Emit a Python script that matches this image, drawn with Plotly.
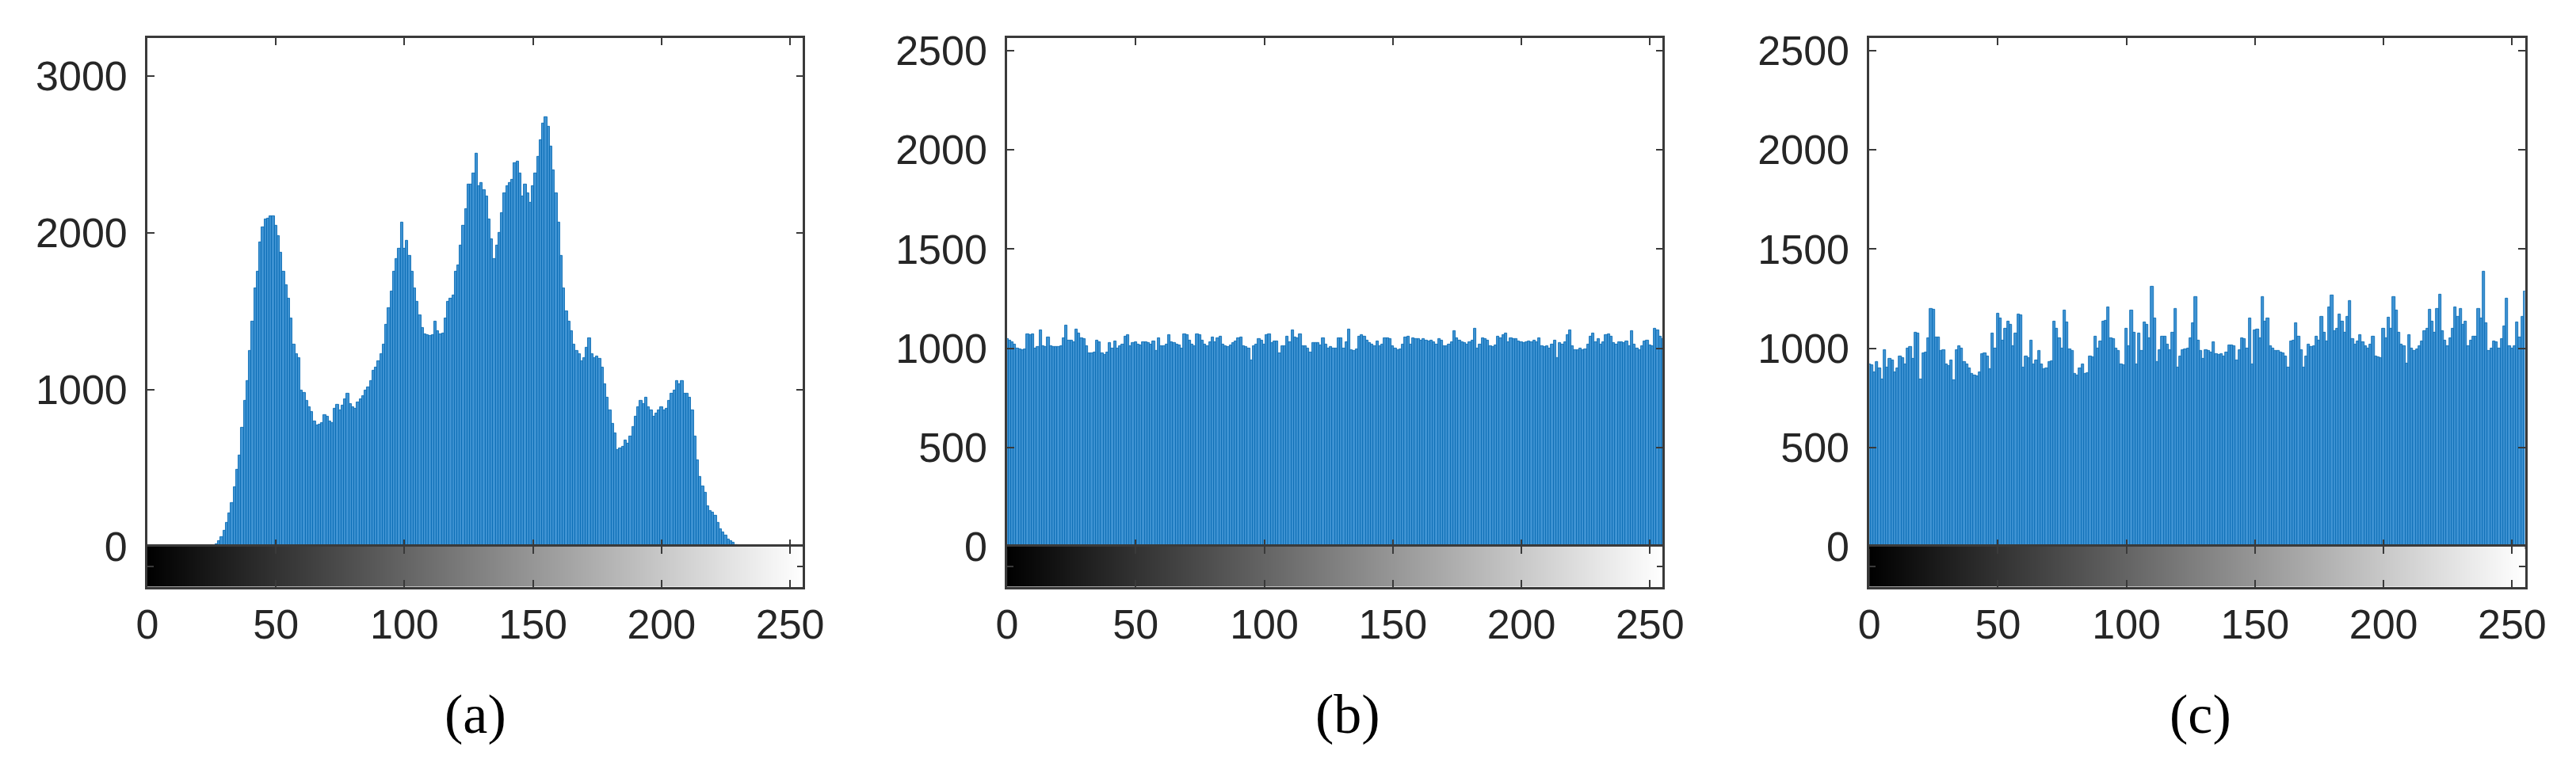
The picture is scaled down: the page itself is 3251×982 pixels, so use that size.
import plotly.graph_objects as go

# grey levels 0..255 (histogram bins)
gray_levels = list(range(256))

# (a) original image histogram
counts_a = [
    0, 0, 0, 0, 0, 0, 0, 0, 0, 0, 0, 0, 0, 0, 0, 0, 0, 0, 0, 0, 0, 0, 0, 0, 0, 0,
    5, 15, 35, 60, 100, 150, 210, 280, 380, 490, 580, 760, 930, 1057,
    1245, 1435, 1645, 1750, 1940, 2034, 2086, 2090, 2107, 2107,
    2044, 1980, 1876, 1750, 1666, 1582, 1456, 1288, 1225, 1204,
    994, 980, 930, 889, 860, 800, 775, 780, 790, 840,
    826, 800, 790, 880, 905, 868, 900, 940, 973, 910,
    889, 880, 920, 940, 960, 994, 1015, 1057, 1120, 1141,
    1183, 1225, 1288, 1414, 1519, 1624, 1750, 1834, 1897, 2065,
    1897, 1950, 1855, 1750, 1645, 1561, 1477, 1393, 1351, 1350,
    1345, 1350, 1435, 1372, 1351, 1360, 1456, 1561, 1582, 1603,
    1750, 1792, 1918, 2044, 2149, 2307, 2310, 2380, 2506, 2296,
    2317, 2275, 2233, 2086, 1960, 1834, 1918, 2002, 2128, 2254,
    2296, 2317, 2338, 2443, 2454, 2380, 2233, 2307, 2254, 2191,
    2296, 2380, 2485, 2590, 2695, 2737, 2674, 2548, 2401, 2254,
    2065, 1855, 1645, 1498, 1435, 1372, 1288, 1246, 1225, 1183,
    1204, 1267, 1330, 1225, 1204, 1210, 1195, 1141, 1036, 952,
    868, 784, 721, 616, 626, 636, 678, 658, 700, 763,
    826, 889, 931, 910, 952, 889, 868, 826, 847, 868,
    889, 868, 880, 931, 973, 994, 1057, 1036, 1057, 973,
    973, 952, 868, 700, 553, 447, 384, 342, 258, 227,
    216, 195, 153, 111, 90, 69, 48, 38, 23, 10,
    4, 0, 0, 0, 0, 0, 0, 0, 0, 0, 0, 0, 0, 0, 0, 0, 0, 0, 0, 0, 0, 0, 0, 0, 0, 0,
]

# (b) equalised histogram
counts_b = [
    1045, 1040, 1030, 1020, 1000, 995, 990, 995, 1070, 1065,
    1070, 1000, 1005, 1090, 1010, 1005, 1055, 1010, 1005, 1008,
    1005, 1010, 1050, 1115, 1040, 1040, 1030, 1095, 1075, 1050,
    1045, 1010, 975, 975, 980, 1040, 1030, 975, 965, 980,
    1025, 1000, 1035, 1000, 1010, 1020, 1060, 1065, 1010, 1025,
    1030, 1020, 1015, 1030, 1030, 1025, 1020, 1035, 985, 1050,
    1010, 1010, 1020, 1065, 1030, 1025, 1020, 1015, 1000, 1070,
    1065, 1040, 1020, 1010, 1070, 1065, 1040, 1020, 1010, 1030,
    1055, 1030, 1050, 1060, 1020, 1010, 1005, 1015, 1025, 1035,
    1050, 1055, 1010, 1005, 1000, 940, 1010, 1020, 1045, 1040,
    1020, 1065, 1070, 1025, 1035, 1035, 975, 1010, 1010, 1060,
    1030, 1090, 1055, 1050, 1070, 1010, 1010, 1000, 980, 1025,
    1025, 1025, 1015, 1050, 1020, 1000, 1005, 1000, 1000, 1050,
    1050, 1000, 1030, 1095, 990, 985, 995, 1060, 1065, 1060,
    1040, 1025, 1020, 1010, 1035, 1010, 1020, 1050, 1050, 1045,
    1010, 1000, 990, 995, 1020, 1055, 1060, 1020, 1050, 1045,
    1045, 1040, 1045, 1040, 1035, 1040, 1030, 1020, 1045, 1040,
    1010, 1010, 1020, 1030, 1085, 1050, 1040, 1030, 1025, 1020,
    1030, 1040, 1100, 1000, 1020, 1050, 1045, 1040, 1010, 1005,
    1015, 1060, 1050, 1065, 1075, 1030, 1050, 1045, 1045, 1035,
    1030, 1025, 1030, 1035, 1030, 1040, 1030, 1050, 1010, 1005,
    1010, 1000, 1020, 1040, 950, 1025, 1020, 1030, 1065, 1090,
    1010, 990, 990, 1000, 990, 995, 1020, 1060, 1075, 1030,
    1045, 1020, 1030, 1065, 1070, 1060, 1025, 1020, 1030, 1030,
    1025, 1035, 1010, 1085, 1020, 1000, 990, 1010, 1035, 1040,
    1015, 1010, 1100, 1090, 1060, 1045,
]

# (c) enhanced image histogram
counts_c = [
    920, 915, 880, 930, 900, 845, 990, 905, 945, 940,
    880, 900, 960, 950, 920, 1000, 1005, 945, 1080, 1075,
    845, 975, 980, 1050, 1200, 1195, 1055, 1055, 985, 990,
    920, 910, 940, 840, 990, 1010, 1000, 930, 920, 900,
    870, 865, 860, 880, 970, 975, 960, 895, 1075, 1000,
    1175, 1150, 1040, 1100, 1135, 1120, 1010, 1075, 1170, 1165,
    905, 960, 950, 1040, 920, 940, 985, 920, 895, 900,
    930, 935, 1135, 1100, 1050, 1000, 1190, 1130, 995, 985,
    870, 865, 900, 920, 870, 875, 960, 955, 1060, 1000,
    1035, 1135, 1140, 1205, 1050, 1045, 1000, 985, 920, 915,
    1100, 1010, 1190, 1080, 920, 1075, 985, 1130, 1120, 1050,
    1310, 1150, 930, 990, 1060, 1060, 1020, 990, 1080, 1200,
    905, 960, 990, 995, 1000, 1050, 1125, 1260, 1040, 985,
    945, 990, 985, 980, 1030, 970, 965, 970, 960, 980,
    1015, 1015, 1010, 940, 990, 1050, 1045, 1000, 1150, 920,
    1090, 1095, 1050, 1260, 1135, 1150, 1010, 1000, 985, 985,
    980, 975, 960, 905, 1035, 1040, 1125, 1060, 990, 905,
    960, 1020, 1005, 1010, 1060, 1040, 1160, 1080, 1035, 1205,
    1265, 1085, 1100, 1170, 1135, 1080, 1160, 1240, 1045, 1020,
    1035, 1065, 1030, 1010, 1000, 1020, 1060, 960, 955, 950,
    1100, 1050, 1155, 1100, 1260, 1190, 1080, 1020, 1010, 925,
    1065, 1000, 985, 995, 1010, 1035, 1085, 1100, 1195, 1135,
    1080, 1200, 1270, 1085, 1040, 1010, 1050, 1100, 1205, 1160,
    1200, 1120, 1135, 1010, 1040, 1060, 1060, 1200, 1150, 1385,
    1125, 985, 1000, 1035, 1030, 1000, 1045, 1110, 1250, 1010,
    1000, 1010, 1130, 1055, 1160, 1285,
]

x_ticks = [0, 50, 100, 150, 200, 250]
y_ticks_a = [0, 1000, 2000, 3000]
y_ticks_bc = [0, 500, 1000, 1500, 2000, 2500]
y_max = [3242, 2565, 2565]
panel_labels = ["(a)", "(b)", "(c)"]

W, H = 3251, 982
box_left = [166, 1265, 2367]
box_w = 838
label_x = [585, 1700, 2790]
top_px, zero_px, bottom_px = 29, 699, 752

ink = "#262626"
frame = "#3a3a3a"
tick_font = dict(family="Arial, Liberation Sans, sans-serif", size=52, color=ink)


def px_x(p):
    return p / W


def px_y(p):
    return 1 - p / H


axis_common = dict(
    showline=True, linecolor=frame, linewidth=2.5, mirror="ticks",
    ticks="inside", ticklen=9, tickwidth=2, tickcolor=frame,
    showgrid=False, zeroline=False, fixedrange=True,
)

fig = go.Figure()
layout = {}

for i, (counts, yt) in enumerate(zip([counts_a, counts_b, counts_c],
                                     [y_ticks_a, y_ticks_bc, y_ticks_bc])):
    up = 2 * i + 1
    lo = 2 * i + 2
    dom_x = [px_x(box_left[i]), px_x(box_left[i] + box_w)]

    fig.add_trace(go.Bar(
        x=gray_levels, y=counts, width=1,
        marker=dict(color="#3f93d3", line=dict(color="#0a6cb4", width=0.9)),
        xaxis="x%d" % up, yaxis="y%d" % up, showlegend=False,
    ))
    fig.add_trace(go.Heatmap(
        x=gray_levels, y=[0.5], z=[gray_levels],
        colorscale=[[0, "black"], [1, "white"]], zmin=0, zmax=255,
        showscale=False, xaxis="x%d" % lo, yaxis="y%d" % lo,
    ))

    layout["xaxis%d" % up] = dict(
        axis_common, domain=dom_x, range=[0, 255], tickvals=x_ticks,
        showticklabels=False, anchor="y%d" % up,
    )
    layout["yaxis%d" % up] = dict(
        axis_common, domain=[px_y(zero_px), px_y(top_px)], range=[0, y_max[i]],
        tickvals=yt, ticktext=[str(v) for v in yt], tickfont=tick_font,
        ticklabelstandoff=12, anchor="x%d" % up,
    )
    layout["xaxis%d" % lo] = dict(
        axis_common, domain=dom_x, range=[0, 255], tickvals=x_ticks,
        ticktext=[str(v) for v in x_ticks], tickfont=tick_font,
        ticklabelstandoff=0, anchor="y%d" % lo,
    )
    layout["yaxis%d" % lo] = dict(
        axis_common, domain=[px_y(bottom_px), px_y(zero_px)], range=[0, 1],
        tickvals=[0.5], showticklabels=False, ticklen=8, anchor="x%d" % lo,
    )

    fig.add_annotation(
        text=panel_labels[i], xref="paper", yref="paper",
        x=px_x(label_x[i]), y=px_y(920), xanchor="center", yanchor="middle",
        showarrow=False,
        font=dict(family="Times New Roman, Liberation Serif, serif", size=70, color="black"),
    )

fig.update_layout(
    width=W, height=H, margin=dict(l=0, r=0, t=0, b=0),
    paper_bgcolor="white", plot_bgcolor="white", bargap=0,
    **layout,
)

fig.write_html("out.html")
